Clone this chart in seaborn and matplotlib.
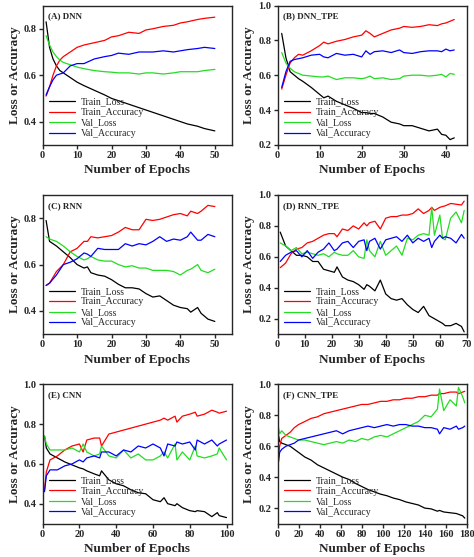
import pandas as pd
import matplotlib
matplotlib.use("Agg")
import matplotlib.pyplot as plt
import seaborn as sns

dnn_ep = [1, 2, 3, 4, 5, 6, 8, 10, 12, 15, 18, 20, 22, 25, 28, 30, 32, 35, 38, 40, 42, 45, 47, 50]
dnn_tl = [0.83, 0.72, 0.67, 0.64, 0.62, 0.61, 0.59, 0.57, 0.555, 0.535, 0.515, 0.50, 0.49, 0.475, 0.46, 0.45, 0.44, 0.425, 0.41, 0.40, 0.39, 0.38, 0.37, 0.36]
dnn_ta = [0.51, 0.55, 0.60, 0.64, 0.665, 0.68, 0.70, 0.72, 0.73, 0.74, 0.75, 0.765, 0.77, 0.785, 0.78, 0.795, 0.80, 0.81, 0.815, 0.825, 0.83, 0.84, 0.845, 0.85]
dnn_vl = [0.77, 0.73, 0.70, 0.68, 0.665, 0.655, 0.645, 0.635, 0.628, 0.62, 0.615, 0.613, 0.61, 0.61, 0.605, 0.61, 0.61, 0.605, 0.61, 0.615, 0.615, 0.615, 0.62, 0.625]
dnn_va = [0.515, 0.55, 0.58, 0.60, 0.605, 0.61, 0.64, 0.65, 0.65, 0.67, 0.68, 0.685, 0.695, 0.69, 0.70, 0.70, 0.70, 0.705, 0.70, 0.705, 0.71, 0.715, 0.72, 0.715]

dtpe_ep = [1, 2, 3, 4, 5, 6, 8, 10, 11, 12, 14, 16, 18, 20, 21, 22, 23, 25, 27, 29, 30, 32, 34, 36, 38, 39, 40, 41, 42]
dtpe_tl = [0.84, 0.70, 0.62, 0.60, 0.58, 0.565, 0.53, 0.49, 0.47, 0.48, 0.45, 0.43, 0.41, 0.385, 0.385, 0.38, 0.38, 0.36, 0.33, 0.32, 0.31, 0.31, 0.295, 0.28, 0.29, 0.26, 0.255, 0.23, 0.24]
dtpe_ta = [0.52, 0.60, 0.67, 0.70, 0.72, 0.715, 0.74, 0.77, 0.79, 0.78, 0.795, 0.805, 0.82, 0.83, 0.855, 0.84, 0.82, 0.84, 0.86, 0.87, 0.88, 0.875, 0.88, 0.89, 0.885, 0.895, 0.90, 0.91, 0.92]
dtpe_vl = [0.73, 0.67, 0.64, 0.62, 0.61, 0.60, 0.595, 0.59, 0.59, 0.595, 0.575, 0.585, 0.585, 0.58, 0.585, 0.595, 0.58, 0.585, 0.575, 0.58, 0.595, 0.60, 0.60, 0.595, 0.60, 0.605, 0.59, 0.61, 0.605]
dtpe_va = [0.53, 0.62, 0.68, 0.69, 0.695, 0.70, 0.715, 0.72, 0.705, 0.70, 0.725, 0.715, 0.72, 0.705, 0.74, 0.72, 0.735, 0.74, 0.73, 0.745, 0.73, 0.725, 0.735, 0.74, 0.74, 0.735, 0.75, 0.74, 0.745]

rnn_ep = [1, 2, 4, 6, 8, 10, 12, 13, 14, 16, 18, 20, 22, 24, 26, 28, 30, 32, 34, 36, 38, 40, 42, 43, 45, 46, 48, 50]
rnn_tl = [0.79, 0.70, 0.68, 0.655, 0.63, 0.60, 0.585, 0.59, 0.565, 0.555, 0.55, 0.535, 0.515, 0.50, 0.50, 0.495, 0.475, 0.46, 0.465, 0.445, 0.425, 0.415, 0.41, 0.395, 0.415, 0.39, 0.365, 0.355]
rnn_ta = [0.51, 0.52, 0.57, 0.60, 0.655, 0.67, 0.70, 0.70, 0.72, 0.715, 0.72, 0.725, 0.74, 0.76, 0.75, 0.75, 0.795, 0.79, 0.795, 0.805, 0.815, 0.82, 0.81, 0.83, 0.82, 0.83, 0.855, 0.85]
rnn_vl = [0.72, 0.71, 0.70, 0.68, 0.655, 0.635, 0.62, 0.625, 0.635, 0.62, 0.615, 0.615, 0.60, 0.59, 0.595, 0.585, 0.585, 0.575, 0.575, 0.575, 0.57, 0.555, 0.575, 0.58, 0.60, 0.575, 0.565, 0.58]
rnn_va = [0.51, 0.52, 0.555, 0.60, 0.61, 0.625, 0.65, 0.645, 0.635, 0.67, 0.665, 0.665, 0.665, 0.69, 0.68, 0.69, 0.685, 0.70, 0.72, 0.70, 0.71, 0.705, 0.72, 0.74, 0.705, 0.705, 0.73, 0.72]

rtpe_ep = [1, 3, 5, 7, 9, 11, 13, 15, 17, 19, 21, 22, 24, 26, 28, 30, 32, 33, 34, 36, 38, 40, 42, 44, 46, 48, 50, 52, 54, 56, 57, 58, 60, 61, 62, 64, 66, 68, 69]
rtpe_tl = [0.76, 0.67, 0.64, 0.61, 0.61, 0.60, 0.57, 0.57, 0.52, 0.51, 0.50, 0.535, 0.47, 0.45, 0.44, 0.42, 0.39, 0.42, 0.41, 0.38, 0.45, 0.36, 0.33, 0.32, 0.33, 0.29, 0.26, 0.24, 0.28, 0.22, 0.21, 0.20, 0.18, 0.17, 0.155, 0.155, 0.17, 0.15, 0.115]
rtpe_ta = [0.53, 0.56, 0.62, 0.65, 0.66, 0.69, 0.70, 0.72, 0.74, 0.75, 0.75, 0.73, 0.78, 0.77, 0.80, 0.78, 0.82, 0.80, 0.82, 0.83, 0.78, 0.85, 0.86, 0.86, 0.87, 0.87, 0.88, 0.91, 0.88, 0.90, 0.92, 0.90, 0.92, 0.925, 0.93, 0.945, 0.94, 0.935, 0.96]
rtpe_vl = [0.69, 0.67, 0.64, 0.66, 0.62, 0.63, 0.62, 0.61, 0.62, 0.60, 0.63, 0.62, 0.61, 0.61, 0.64, 0.60, 0.59, 0.71, 0.64, 0.60, 0.70, 0.61, 0.64, 0.67, 0.61, 0.72, 0.71, 0.74, 0.75, 0.74, 0.92, 0.74, 0.87, 0.72, 0.71, 0.85, 0.89, 0.82, 0.90]
rtpe_va = [0.57, 0.61, 0.63, 0.64, 0.60, 0.64, 0.59, 0.63, 0.65, 0.69, 0.64, 0.65, 0.69, 0.70, 0.66, 0.70, 0.71, 0.64, 0.70, 0.72, 0.65, 0.71, 0.72, 0.73, 0.70, 0.74, 0.69, 0.72, 0.70, 0.72, 0.66, 0.70, 0.74, 0.72, 0.73, 0.72, 0.69, 0.745, 0.72]

cnn_ep = [1, 2, 4, 8, 12, 16, 20, 22, 24, 28, 31, 32, 36, 40, 44, 48, 52, 56, 60, 64, 66, 68, 72, 73, 76, 80, 83, 84, 88, 92, 95, 96, 100]
cnn_tl = [0.74, 0.68, 0.65, 0.63, 0.61, 0.595, 0.58, 0.575, 0.565, 0.55, 0.54, 0.565, 0.52, 0.50, 0.49, 0.47, 0.455, 0.45, 0.42, 0.41, 0.43, 0.40, 0.39, 0.40, 0.38, 0.365, 0.36, 0.365, 0.36, 0.335, 0.355, 0.34, 0.33]
cnn_ta = [0.47, 0.56, 0.62, 0.64, 0.67, 0.69, 0.70, 0.66, 0.72, 0.73, 0.73, 0.69, 0.75, 0.76, 0.77, 0.78, 0.79, 0.80, 0.81, 0.82, 0.83, 0.82, 0.84, 0.81, 0.84, 0.85, 0.86, 0.84, 0.85, 0.87, 0.86, 0.855, 0.865]
cnn_vl = [0.74, 0.70, 0.67, 0.67, 0.67, 0.68, 0.66, 0.70, 0.66, 0.64, 0.65, 0.69, 0.64, 0.63, 0.67, 0.63, 0.65, 0.62, 0.62, 0.64, 0.66, 0.63, 0.70, 0.62, 0.66, 0.62, 0.69, 0.64, 0.63, 0.64, 0.65, 0.68, 0.62]
cnn_va = [0.46, 0.54, 0.57, 0.57, 0.59, 0.60, 0.62, 0.61, 0.63, 0.64, 0.63, 0.66, 0.66, 0.64, 0.67, 0.66, 0.69, 0.68, 0.70, 0.68, 0.64, 0.70, 0.69, 0.71, 0.70, 0.71, 0.67, 0.72, 0.70, 0.72, 0.69, 0.70, 0.72]

ctpe_ep = [1, 2, 4, 8, 12, 16, 20, 26, 32, 38, 44, 50, 56, 62, 68, 74, 80, 86, 92, 98, 104, 110, 116, 122, 128, 134, 140, 146, 152, 154, 158, 164, 170, 172, 176, 178]
ctpe_tl = [0.67, 0.63, 0.62, 0.61, 0.60, 0.58, 0.56, 0.53, 0.51, 0.48, 0.46, 0.44, 0.42, 0.40, 0.385, 0.36, 0.34, 0.32, 0.305, 0.29, 0.28, 0.265, 0.255, 0.24, 0.23, 0.22, 0.20, 0.195, 0.18, 0.185, 0.175, 0.17, 0.165, 0.16, 0.15, 0.135]
ctpe_ta = [0.53, 0.60, 0.65, 0.67, 0.69, 0.72, 0.74, 0.76, 0.78, 0.79, 0.81, 0.82, 0.83, 0.84, 0.85, 0.86, 0.87, 0.87, 0.88, 0.89, 0.89, 0.90, 0.90, 0.91, 0.91, 0.92, 0.92, 0.93, 0.93, 0.94, 0.94, 0.95, 0.95, 0.94, 0.95, 0.955]
ctpe_vl = [0.72, 0.68, 0.70, 0.67, 0.66, 0.65, 0.64, 0.64, 0.63, 0.62, 0.61, 0.62, 0.63, 0.62, 0.64, 0.63, 0.65, 0.64, 0.66, 0.67, 0.66, 0.68, 0.70, 0.72, 0.74, 0.76, 0.80, 0.79, 0.84, 0.97, 0.83, 0.90, 0.86, 0.98, 0.92, 0.88]
ctpe_va = [0.50, 0.56, 0.58, 0.60, 0.61, 0.62, 0.64, 0.65, 0.66, 0.67, 0.68, 0.69, 0.70, 0.68, 0.70, 0.71, 0.72, 0.73, 0.72, 0.73, 0.74, 0.73, 0.74, 0.74, 0.73, 0.73, 0.72, 0.72, 0.71, 0.68, 0.72, 0.71, 0.73, 0.71, 0.72, 0.73]

series_names = ["Train_Loss", "Train_Accuracy", "Val_Loss", "Val_Accuracy"]
colors = ["black", "red", "#22dd22", "blue"]

panels = [
    ("(A) DNN", dnn_ep, [dnn_tl, dnn_ta, dnn_vl, dnn_va], (0, 55), range(0, 51, 10), (0.3, 0.9)),
    ("(B) DNN_TPE", dtpe_ep, [dtpe_tl, dtpe_ta, dtpe_vl, dtpe_va], (0, 45), range(0, 41, 10), (0.2, 1.0)),
    ("(C) RNN", rnn_ep, [rnn_tl, rnn_ta, rnn_vl, rnn_va], (0, 55), range(0, 51, 10), (0.3, 0.9)),
    ("(D) RNN_TPE", rtpe_ep, [rtpe_tl, rtpe_ta, rtpe_vl, rtpe_va], (0, 70), range(0, 71, 10), (0.1, 1.0)),
    ("(E) CNN", cnn_ep, [cnn_tl, cnn_ta, cnn_vl, cnn_va], (0, 103), range(0, 101, 20), (0.3, 1.0)),
    ("(F) CNN_TPE", ctpe_ep, [ctpe_tl, ctpe_ta, ctpe_vl, ctpe_va], (0, 180), range(0, 181, 20), (0.1, 1.0)),
]

sns.set_theme(style="ticks")
plt.rcParams["font.family"] = ["Liberation Serif", "DejaVu Serif"]

fig, axes = plt.subplots(3, 2, figsize=(4.74, 5.57), dpi=100)
fig.subplots_adjust(left=0.09, right=0.985, top=0.99, bottom=0.06, wspace=0.24, hspace=0.36)

for ax, (title, ep, vals, xlim, xticks, ylim) in zip(axes.flat, panels):
    rows = []
    for name, v in zip(series_names, vals):
        for e, y in zip(ep, v):
            rows.append([e, y, name])
    df = pd.DataFrame(rows, columns=["Epoch", "Value", "Series"])
    sns.lineplot(data=df, x="Epoch", y="Value", hue="Series", hue_order=series_names,
                 palette=colors, linewidth=0.9, ax=ax)
    ax.set_xlim(*xlim)
    ax.set_ylim(*ylim)
    ax.set_xticks(list(xticks))
    ax.tick_params(labelsize=7.5, length=3, width=1.0, pad=1.5)
    for lab in ax.get_xticklabels() + ax.get_yticklabels():
        lab.set_fontweight("bold")
    for s in ax.spines.values():
        s.set_visible(True)
        s.set_linewidth(1.0)
    ax.set_xlabel("Number of Epochs", fontsize=9.5, fontweight="bold", labelpad=3)
    ax.set_ylabel("Loss or Accuracy", fontsize=9.5, fontweight="bold", labelpad=2)
    ax.text(0.03, 0.95, title, transform=ax.transAxes, fontsize=6.5, fontweight="bold", va="top")
    ax.legend(loc="lower left", frameon=False, fontsize=7, handlelength=2.6,
              labelspacing=0.15, borderaxespad=0.3, handletextpad=0.6)

fig.savefig("out.png", dpi=100)
